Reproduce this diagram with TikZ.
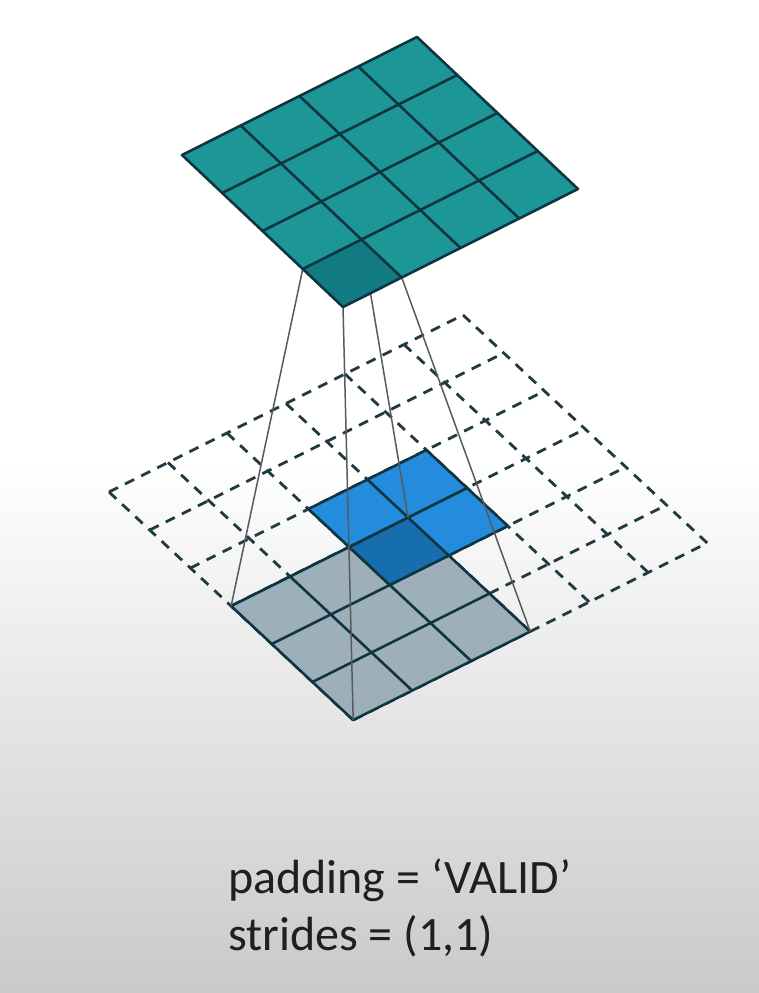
\documentclass[tikz,border=0pt]{standalone}
\usepackage{fontspec}
\setmainfont{Carlito}
\usetikzlibrary{positioning}

\definecolor{tealcell}{HTML}{1D9698}
\definecolor{tealdark}{HTML}{127A82}
\definecolor{bluecell}{HTML}{238CDC}
\definecolor{bluedark}{HTML}{166EAF}
\definecolor{kernelgray}{HTML}{9DAFB9}
\definecolor{gridink}{HTML}{0F3540}
\definecolor{padink}{HTML}{1F3A40}
\definecolor{wireink}{HTML}{5A5A5A}

\begin{document}
\begin{tikzpicture}[
    x=1pt, y=-1pt,
    gridline/.style={draw=gridink, line width=2.6pt, line join=round, line cap=round},
    padline/.style={draw=padink, line width=2.8pt, dash pattern=on 10pt off 8pt},
    wire/.style={draw=wireink, line width=1.5pt},
    caption/.style={font=\fontsize{48}{57}\selectfont, text=black!88, inner sep=0pt, anchor=base west}
]
    % Background
    \useasboundingbox (0,0) rectangle (759,993);
    \fill[white] (0,0) rectangle (759,460);
    \shade[top color=white, bottom color=black!21] (0,460) rectangle (759,993);

    % Output map corners (for the wires)
    \begin{scope}[shift={(182,155)}, x={(58.75pt,29.5pt)}, y={(40.25pt,-38pt)}]
        \coordinate (ol) at (0,3);
        \coordinate (ot) at (1,3);
        \coordinate (or) at (1,4);
        \coordinate (ob) at (0,4);
    \end{scope}

    % Input map with kernel
    \begin{scope}[shift={(109,492)}, x={(59pt,29.5pt)}, y={(40.7pt,-38pt)}]
        \foreach \k in {0,...,6} {
            \draw[padline] (\k,0) -- (\k,6);
            \draw[padline] (0,\k) -- (6,\k);
        }
        % Kernel
        \fill[kernelgray] (0,3) -- (3,3) -- (3,6) -- (0,6) -- cycle;
        \foreach \k in {0,...,3} {
            \draw[gridline] (\k,3) -- (\k,6);
            \draw[gridline] (0,3+\k) -- (3,3+\k);
        }
        % Blue patch
        \fill[bluecell] (2,2) -- (4,2) -- (4,4) -- (2,4) -- cycle;
        \fill[bluedark] (2,3) -- (3,3) -- (3,4) -- (2,4) -- cycle;
        \foreach \k in {2,3,4} {
            \draw[gridline] (\k,2) -- (\k,4);
            \draw[gridline] (2,\k) -- (4,\k);
        }
        \coordinate (kl) at (0,3);
        \coordinate (kt) at (3,3);
        \coordinate (kr) at (3,6);
        \coordinate (kb) at (0,6);
    \end{scope}

    % Wires
    \draw[wire] (ol) -- (kl);
    \draw[wire] (ot) -- (kt);
    \draw[wire] (or) -- (kr);
    \draw[wire] (ob) -- (kb);

    % Output map
    \begin{scope}[shift={(182,155)}, x={(58.75pt,29.5pt)}, y={(40.25pt,-38pt)}]
        \fill[tealcell] (0,0) -- (4,0) -- (4,4) -- (0,4) -- cycle;
        \fill[tealdark] (0,3) -- (1,3) -- (1,4) -- (0,4) -- cycle;
        \foreach \k in {0,...,4} {
            \draw[gridline] (\k,0) -- (\k,4);
            \draw[gridline] (0,\k) -- (4,\k);
        }
    \end{scope}

    % Labels
    \node[caption] (pad) at (228,893) {padding = ‘VALID’};
    \node[caption] (strd) at (228,950) {strides = (1,1)};

\end{tikzpicture}
\end{document}
